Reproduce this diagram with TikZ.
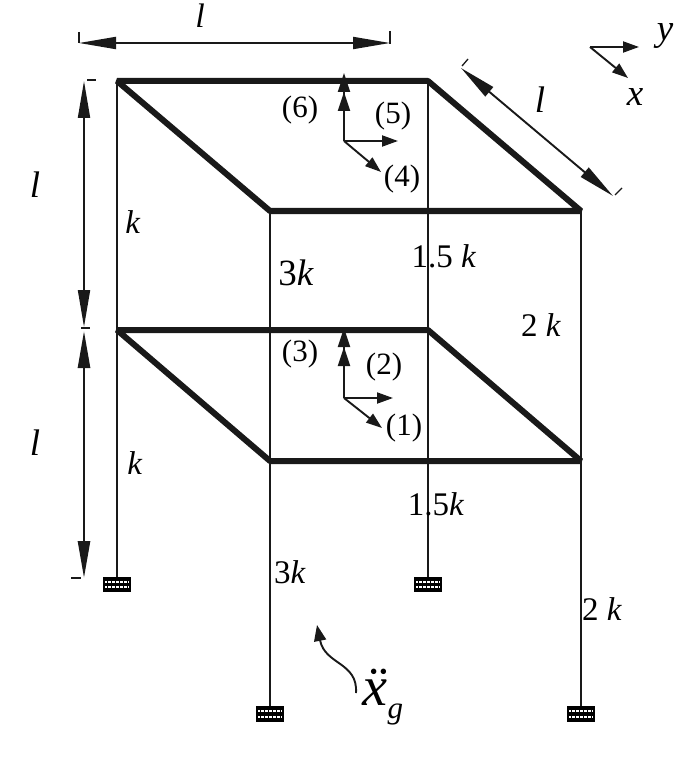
\documentclass[tikz,border=0pt]{standalone}
\usepackage{fontspec}
\setmainfont{Liberation Serif}
\usetikzlibrary{arrows.meta}
\tikzset{
    column/.style={line width=2.2pt, black!90},
    beam/.style={line width=6pt, black!90, line cap=butt, line join=bevel},
    dimline/.style={line width=1.9pt, black!90, {Triangle[length=37pt,width=12pt]}-{Triangle[length=37pt,width=12pt]}},
    tick/.style={line width=1.3pt, black!90},
    dof/.style={line width=1.9pt, black!90, -{Triangle[length=16pt,width=11pt]}},
    dofup/.style={line width=1.9pt, black!90, -{Triangle[length=19pt,width=12pt] Triangle[length=19pt,width=12pt]}},
    num/.style={inner sep=0pt, font=\fontsize{31}{34}\selectfont},
    val/.style={inner sep=0pt, font=\fontsize{33}{36}\selectfont},
    var/.style={inner sep=0pt, font=\fontsize{37}{40}\selectfont\itshape},
    support/.style={draw=black, line width=1.2pt, fill=white, minimum width=26pt, minimum height=14pt, inner sep=0pt,
        path picture={
            \fill[black] (path picture bounding box.south west) rectangle (path picture bounding box.north east);
            \foreach \yy in {-2.6,2.6}
                \draw[white, line width=2pt, dash pattern=on 2.5pt off 1.5pt]
                    ([yshift=\yy pt]path picture bounding box.west) -- ([yshift=\yy pt]path picture bounding box.east);
        }},
}
\begin{document}
\begin{tikzpicture}[x=1pt, y=-1pt]
    \useasboundingbox (0,0) rectangle (675,767);

    % Frame joints
    \foreach \name/\x/\yt/\ym in {a/117/81/330, b/428/81/330, c/270/211/461, d/581/211/461} {
        \coordinate (\name top) at (\x,\yt);
        \coordinate (\name mid) at (\x,\ym);
    }

    % Fixed supports
    \node[support] (abase) at (117,584.5) {};
    \node[support] (bbase) at (428,584.5) {};
    \node[support] (cbase) at (270,714) {};
    \node[support] (dbase) at (581,714) {};

    % Columns
    \foreach \name in {a,b,c,d}
        \draw[column] (\name top) -- (\name base.north);

    % Floors
    \foreach \level in {top,mid} {
        \draw[beam] (a\level) -- (b\level) -- (d\level) -- (c\level) -- cycle;
    }

    % Dimension lines
    \coordinate (dimtopL) at (79,43);
    \coordinate (dimtopR) at (390,43);
    \coordinate (dimleftT) at (84,81);
    \coordinate (dimleftM) at (84,327);
    \coordinate (dimleftN) at (84,331);
    \coordinate (dimleftB) at (84,578);
    \coordinate (dimdiagT) at (461,68);
    \coordinate (dimdiagB) at (613,196);
    \draw[dimline] (dimtopL) -- (dimtopR);
    \draw[dimline] (dimleftT) -- (dimleftM);
    \draw[dimline, line width=2.6pt] (dimleftN) -- (dimleftB);
    \draw[dimline] (dimdiagT) -- (dimdiagB);

    % Ticks
    \draw[tick] (79,32) -- (79,43);
    \draw[tick] (390,31) -- (390,44);
    \draw[tick] (87,80) -- (96,80);
    \draw[tick] (81,328) -- (90,328);
    \draw[tick] (71,578) -- (81,578);
    \draw[tick] (462,66) -- (468,59);
    \draw[tick] (615,195) -- (622,188);

    % Global axes
    \coordinate (axes) at (590,47);
    \coordinate (axesY) at (639,47);
    \coordinate (axesX) at (628,78);
    \draw[dof] (axes) -- (axesY);
    \draw[dof] (axes) -- (axesX);
    \node[var] (ylabel) at (665,36) {y};
    \node[var] (xlabel) at (635,97) {x};

    % Degrees of freedom
    \foreach \name/\x/\y/\ytip/\xr/\xd/\yd in {upper/344/141/73/398/381/172, lower/344/398/328/393/382/428} {
        \coordinate (\name o) at (\x,\y);
        \coordinate (\name u) at (\x,\ytip);
        \coordinate (\name r) at (\xr,\y);
        \coordinate (\name d) at (\xd,\yd);
        \draw[dofup] (\name o) -- (\name u);
        \draw[dof] (\name o) -- (\name r);
        \draw[dof] (\name o) -- (\name d);
    }
    \foreach \n/\x/\y in {6/300/110, 5/393/116, 4/402/179, 3/300/354, 2/384/367, 1/404/428}
        \node[num] (dof\n) at (\x,\y) {(\n)};

    % Lengths
    \foreach \i/\x/\y in {b/35/185, c/35/443, d/540/100}
        \node[var] (len\i) at (\x,\y) {l};
    \node[var, font=\fontsize{34}{36}\selectfont\itshape] (lena) at (200,16) {l};

    % Stiffness
    \node[val] (ka) at (133,222) {\textit{k}};
    \node[val] (kb) at (135,463) {\textit{k}};
    \node[val, font=\fontsize{37}{40}\selectfont] (kc) at (296,273) {3\textit{k}};
    \node[val] (kd) at (290,572) {3\textit{k}};
    \node[val] (ke) at (444,256) {1.5 \textit{k}};
    \node[val] (kf) at (436,504) {1.5\textit{k}};
    \node[val] (kg) at (541,325) {2 \textit{k}};
    \node[val] (kh) at (602,609) {2 \textit{k}};

    % Ground acceleration
    \node[inner sep=0pt, font=\fontsize{56}{58}\selectfont\itshape] (xg) at (383,697)
        {\"x\raisebox{-13pt}{\fontsize{31}{33}\selectfont g}};
    \coordinate (xgstart) at (356,693);
    \coordinate (xgtip) at (317,625);
    \draw[line width=1.9pt, black!90, -{Triangle[length=16pt,width=12pt]}] (xgstart) .. controls (358,662) and (325,665) .. (xgtip);
\end{tikzpicture}
\end{document}
